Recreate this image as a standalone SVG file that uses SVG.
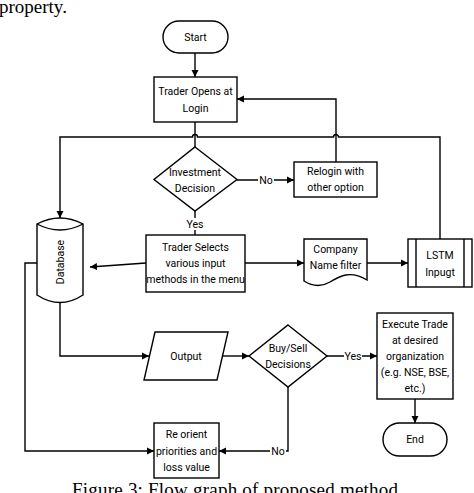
<svg xmlns="http://www.w3.org/2000/svg" width="474" height="493" viewBox="0 0 474 493">
<defs>
<style>
.s{fill:#fff;stroke:#000;stroke-width:1.4}
.c{fill:none;stroke:#000;stroke-width:1.4}
.t{font-family:Roboto,"Liberation Sans",sans-serif;font-size:10.5px;fill:#000;text-anchor:middle;dominant-baseline:central}
.cap{font-family:"Liberation Serif",serif;font-size:19px;fill:#000}
.lb{fill:#fff}
</style>
<marker id="a" markerWidth="8" markerHeight="8" refX="7" refY="4" orient="auto" markerUnits="userSpaceOnUse">
<path d="M0,0.5 L7,4 L0,7.5 Z" fill="#000"/>
</marker>
</defs>
<rect width="474" height="493" fill="#fff"/>
<text class="cap" x="-1" y="13">property.</text>
<text class="cap" x="72" y="496" textLength="326">Figure 3: Flow graph of proposed method</text>

<g id="connectors">
<path class="c" d="M195,53 V77" marker-end="url(#a)"/>
<path class="c" d="M195,122 V147"/>
<path class="c" d="M237,180 H294" marker-end="url(#a)"/>
<path class="c" d="M336,162 V99 H237" marker-end="url(#a)"/>
<path class="c" d="M195,211 V235"/>
<path class="c" d="M440,239 V137 H338.5 A2.5,2.5 0 0 0 333.5,137 H197.5 A2.5,2.5 0 0 0 192.5,137 H60 V218" marker-end="url(#a)"/>
<path class="c" d="M146,263 L90,267" marker-end="url(#a)"/>
<path class="c" d="M245,263 H304" marker-end="url(#a)"/>
<path class="c" d="M367,263 H408" marker-end="url(#a)"/>
<path class="c" d="M37,263 H25 V451 H154" marker-end="url(#a)"/>
<path class="c" d="M60,303 V356 H149" marker-end="url(#a)"/>
<path class="c" d="M222,356 H249" marker-end="url(#a)"/>
<path class="c" d="M327,356 H377" marker-end="url(#a)"/>
<path class="c" d="M415,399 V423" marker-end="url(#a)"/>
<path class="c" d="M288,387 V451 H219" marker-end="url(#a)"/>
<rect class="lb" x="258" y="174" width="16" height="12"/>
<text class="t" x="266" y="180">No</text>
<rect class="lb" x="186" y="218" width="18" height="12"/>
<text class="t" x="195" y="224">Yes</text>
<rect class="lb" x="344" y="350" width="18" height="12"/>
<text class="t" x="353" y="356">Yes</text>
<rect class="lb" x="270" y="445" width="16" height="12"/>
<text class="t" x="278" y="451">No</text>
</g>

<g id="start">
<rect class="s" x="163" y="21" width="65" height="32" rx="16"/>
<text class="t" x="195.5" y="37">Start</text>
</g>
<g id="login">
<rect class="s" x="154" y="77" width="83" height="45"/>
<text class="t" x="195.5" y="91">Trader Opens at</text>
<text class="t" x="195.5" y="108">Login</text>
</g>
<g id="investment">
<path class="s" d="M195,147 L237,179.5 L195,211 L154,179.5 Z"/>
<text class="t" x="195" y="172">Investment</text>
<text class="t" x="195" y="188">Decision</text>
</g>
<g id="relogin">
<rect class="s" x="294" y="162" width="83" height="35"/>
<text class="t" x="335.5" y="171">Relogin with</text>
<text class="t" x="335.5" y="187">other option</text>
</g>
<g id="selects">
<rect class="s" x="146" y="235" width="99" height="57"/>
<text class="t" x="195.5" y="247">Trader Selects</text>
<text class="t" x="195.5" y="263">various input</text>
<text class="t" x="195.5" y="279">methods in the menu</text>
</g>
<g id="company">
<path class="s" d="M304,239 H367 V280 C350,270 340,276 330,282 C320,288 312,286 304,281 Z"/>
<text class="t" x="335.5" y="249">Company</text>
<text class="t" x="335.5" y="265">Name filter</text>
</g>
<g id="lstm">
<rect class="s" x="408" y="239" width="64" height="48"/>
<path class="c" d="M416,239 V287 M464,239 V287"/>
<text class="t" x="440" y="255">LSTM</text>
<text class="t" x="440" y="272">Inpugt</text>
</g>
<g id="database">
<path class="s" d="M37,224 Q60,212 83,224 V295 Q60,310 37,295 Z"/>
<path class="c" d="M37,224 Q60,236 83,224"/>
<text class="t" x="60" y="262" transform="rotate(-90 60 262)">Database</text>
</g>
<g id="output">
<path class="s" d="M155,332 H228 L217,380 H144 Z"/>
<text class="t" x="186" y="356">Output</text>
</g>
<g id="buysell">
<path class="s" d="M288,325 L327,356 L288,387 L249,356 Z"/>
<text class="t" x="288" y="348">Buy/Sell</text>
<text class="t" x="288" y="364">Decisions</text>
</g>
<g id="execute">
<rect class="s" x="377" y="313" width="76" height="86"/>
<text class="t" x="415" y="324">Execute Trade</text>
<text class="t" x="415" y="340">at desired</text>
<text class="t" x="415" y="356">organization</text>
<text class="t" x="415" y="372">(e.g. NSE, BSE,</text>
<text class="t" x="415" y="388">etc.)</text>
</g>
<g id="end">
<rect class="s" x="383" y="423" width="64" height="33" rx="16.5"/>
<text class="t" x="415" y="439.5">End</text>
</g>
<g id="reorient">
<rect class="s" x="154" y="423" width="65" height="55"/>
<text class="t" x="186.5" y="434">Re orient</text>
<text class="t" x="186.5" y="451">priorities and</text>
<text class="t" x="186.5" y="467">loss value</text>
</g>
</svg>
